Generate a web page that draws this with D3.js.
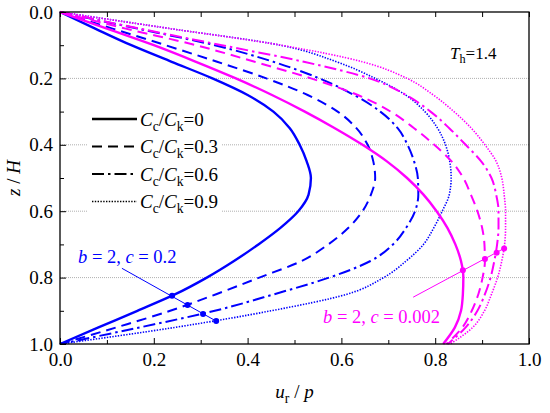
<!DOCTYPE html>
<html>
<head>
<meta charset="utf-8">
<script src="https://cdn.jsdelivr.net/npm/d3@7"></script>
<style>
  body { margin: 0; background: #fff; }
  svg { display: block; }
</style>
</head>
<body>
<div id="chart"></div>
<script>
// depth ratio z/H shared by every curve
const zGrid = [0, 0.05, 0.1, 0.15, 0.2, 0.25, 0.3, 0.35, 0.4, 0.45, 0.5,
               0.55, 0.6, 0.65, 0.7, 0.75, 0.8, 0.85, 0.9, 0.95, 1.0];

// u_r / p, b = 2, c = 0.2 (blue)
const blueCe0  = [0, 0.075, 0.152, 0.238, 0.325, 0.4, 0.455, 0.49, 0.511, 0.526, 0.535,
                  0.53, 0.508, 0.47, 0.423, 0.371, 0.313, 0.246, 0.165, 0.082, 0];
const blueCe3  = [0, 0.112, 0.225, 0.335, 0.44, 0.528, 0.592, 0.632, 0.656, 0.668, 0.672,
                  0.663, 0.645, 0.615, 0.572, 0.515, 0.425, 0.333, 0.235, 0.12, 0];
const blueCe6  = [0, 0.165, 0.33, 0.455, 0.553, 0.627, 0.683, 0.72, 0.741, 0.755, 0.763,
                  0.764, 0.757, 0.738, 0.71, 0.662, 0.574, 0.457, 0.33, 0.17, 0];
const blueCe9  = [0, 0.235, 0.47, 0.59, 0.672, 0.737, 0.778, 0.805, 0.822, 0.831, 0.834,
                  0.83, 0.815, 0.797, 0.775, 0.738, 0.69, 0.612, 0.45, 0.245, 0];

// u_r / p, b = 2, c = 0.002 (magenta)
const pinkCe0  = [0, 0.1, 0.2, 0.29, 0.375, 0.452, 0.522, 0.586, 0.645, 0.697, 0.74,
                  0.775, 0.803, 0.826, 0.843, 0.855, 0.86, 0.859, 0.855, 0.842, 0.817];
const pinkCe3  = [0, 0.14, 0.29, 0.415, 0.535, 0.635, 0.705, 0.755, 0.798, 0.835, 0.86,
                  0.876, 0.89, 0.9, 0.905, 0.906, 0.901, 0.892, 0.878, 0.858, 0.824];
const pinkCe6  = [0, 0.17, 0.345, 0.52, 0.66, 0.738, 0.79, 0.83, 0.865, 0.898, 0.92,
                  0.93, 0.935, 0.935, 0.932, 0.926, 0.918, 0.906, 0.89, 0.865, 0.827];
const pinkCe9  = [0, 0.235, 0.472, 0.645, 0.74, 0.796, 0.84, 0.877, 0.906, 0.93, 0.942,
                  0.947, 0.95, 0.95, 0.948, 0.942, 0.933, 0.92, 0.905, 0.88, 0.832];

// marked points and label leaders
const blueMarkU = [0.239, 0.272, 0.305, 0.333];
const blueMarkZ = [0.855, 0.8825, 0.91, 0.931];
const pinkMarkU = [0.859, 0.906, 0.931, 0.947];
const pinkMarkZ = [0.778, 0.744, 0.725, 0.712];
const blueLeadStart = [0.132, 0.772];
const pinkLeadStart = [0.753, 0.859];

const legendRatios = ["0", "0.3", "0.6", "0.9"];
const majorTicks = [0, 0.2, 0.4, 0.6, 0.8, 1.0];
const minorTicks = [0.1, 0.3, 0.5, 0.7, 0.9];
const gridZ = [0.2, 0.4, 0.6, 0.8];

const BLUE = "#0000ff", PINK = "#ff00ff";
const SERIF = '"Liberation Serif"';
const dashes = [null, "10,6", "12,4,2.5,4", "1.4,1.4"];
const widths = [2.4, 2, 2, 1.6];

const series = [
  {u: blueCe0, color: BLUE, k: 0}, {u: blueCe3, color: BLUE, k: 1},
  {u: blueCe6, color: BLUE, k: 2}, {u: blueCe9, color: BLUE, k: 3},
  {u: pinkCe0, color: PINK, k: 0}, {u: pinkCe3, color: PINK, k: 1},
  {u: pinkCe6, color: PINK, k: 2}, {u: pinkCe9, color: PINK, k: 3}
];

const width = 550, height = 413;
const svg = d3.select("#chart").append("svg")
  .attr("width", width).attr("height", height);

const x = d3.scaleLinear().domain([0, 1]).range([60, 529]);
const y = d3.scaleLinear().domain([0, 1]).range([12, 344]);

// write text with italic / subscript parts
function rich(t, parts, fs) {
  t.style("font-family", SERIF).style("white-space", "pre");
  let down = false;
  parts.forEach(([s, kind]) => {
    const ts = t.append("tspan").text(s).style("font-family", SERIF);
    if (kind === "sub") {
      ts.style("font-size", (fs * 0.72) + "px");
      if (!down) ts.attr("dy", fs * 0.28);
      down = true;
    } else {
      ts.style("font-size", fs + "px");
      if (down) ts.attr("dy", -fs * 0.28);
      down = false;
      if (kind === "i") ts.style("font-style", "italic");
    }
  });
}

// grid
svg.append("g").selectAll("line").data(gridZ).enter().append("line")
  .attr("x1", x(0)).attr("x2", x(1))
  .attr("y1", d => y(d)).attr("y2", d => y(d))
  .attr("stroke", "#9a9a9a").attr("stroke-width", 0.8)
  .attr("stroke-dasharray", "1,1");

// legend background hides grid
svg.append("rect").attr("x", 88).attr("y", 106).attr("width", 134).attr("height", 107)
  .attr("fill", "#fff");

// curves
const line = d3.line().curve(d3.curveMonotoneY);
series.forEach(s => {
  const pts = zGrid.map((z, i) => [x(s.u[i]), y(z)]);
  svg.append("path").attr("d", line(pts))
    .attr("fill", "none").attr("stroke", s.color)
    .attr("stroke-width", widths[s.k])
    .attr("stroke-dasharray", dashes[s.k]);
});

// leaders and markers
function marks(us, zs, start, color) {
  const last = us.length - 1;
  svg.append("line")
    .attr("x1", x(start[0])).attr("y1", y(start[1]))
    .attr("x2", x(us[last])).attr("y2", y(zs[last]))
    .attr("stroke", color).attr("stroke-width", 1);
  svg.append("g").selectAll("circle").data(us).enter().append("circle")
    .attr("cx", d => x(d)).attr("cy", (d, i) => y(zs[i]))
    .attr("r", 3).attr("fill", color);
}
marks(blueMarkU, blueMarkZ, blueLeadStart, BLUE);
marks(pinkMarkU, pinkMarkZ, pinkLeadStart, PINK);

// axes
const fmt = d3.format(".1f");
function styleAxis(g) {
  g.select(".domain").remove();
  g.selectAll("line").attr("stroke", "#000").attr("stroke-width", 1);
  g.selectAll("text").attr("fill", "#000")
    .style("font-family", SERIF).style("font-size", "19px");
}
svg.append("g").attr("transform", `translate(0,${y(1)})`)
  .call(d3.axisBottom(x).tickValues(majorTicks).tickSize(-6).tickPadding(9).tickFormat(fmt))
  .call(styleAxis);
svg.append("g").attr("transform", `translate(0,${y(1)})`)
  .call(d3.axisBottom(x).tickValues(minorTicks).tickSize(-4).tickFormat(""))
  .call(styleAxis);
svg.append("g").attr("transform", `translate(${x(0)},0)`)
  .call(d3.axisLeft(y).tickValues(majorTicks).tickSize(-6).tickPadding(7).tickFormat(fmt))
  .call(styleAxis);
svg.append("g").attr("transform", `translate(${x(0)},0)`)
  .call(d3.axisLeft(y).tickValues(minorTicks).tickSize(-4).tickFormat(""))
  .call(styleAxis);
svg.append("g").attr("transform", `translate(0,${y(0)})`)
  .call(d3.axisTop(x).tickValues(majorTicks.concat(minorTicks)).tickSize(-5).tickFormat(""))
  .call(styleAxis);

// frame
svg.append("rect").attr("x", x(0)).attr("y", y(0))
  .attr("width", x(1) - x(0)).attr("height", y(1) - y(0))
  .attr("fill", "none").attr("stroke", "#000").attr("stroke-width", 1.3);

// axis titles
rich(svg.append("text").attr("x", x(0.5)).attr("y", 398).attr("text-anchor", "middle"),
  [["u", "i"], ["r", "sub"], [" / ", ""], ["p", "i"]], 19);
rich(svg.append("text").attr("transform", `translate(20,${y(0.5)}) rotate(-90)`)
  .attr("text-anchor", "middle"),
  [["z", "i"], [" / ", ""], ["H", "i"]], 19);

// legend
const legY = [119, 146.5, 174, 201.5];
legendRatios.forEach((r, i) => {
  svg.append("line").attr("x1", 92).attr("x2", 137)
    .attr("y1", legY[i]).attr("y2", legY[i])
    .attr("stroke", "#000").attr("stroke-width", widths[i])
    .attr("stroke-dasharray", dashes[i]);
  rich(svg.append("text").attr("x", 140).attr("y", legY[i] + 6.5),
    [["C", "i"], ["c", "sub"], ["/", ""], ["C", "i"], ["k", "sub"], ["=" + r, ""]], 19);
});

// annotations
rich(svg.append("text").attr("x", 450).attr("y", 58.5),
  [["T", "i"], ["h", "sub"], ["=1.4", ""]], 17);
rich(svg.append("text").attr("x", 78).attr("y", 263).attr("fill", BLUE),
  [["b", "i"], [" = 2, ", ""], ["c", "i"], [" = 0.2", ""]], 18.5);
rich(svg.append("text").attr("x", 323).attr("y", 322.7).attr("fill", PINK),
  [["b", "i"], [" = 2, ", ""], ["c", "i"], [" = 0.002", ""]], 18.5);
</script>
</body>
</html>
